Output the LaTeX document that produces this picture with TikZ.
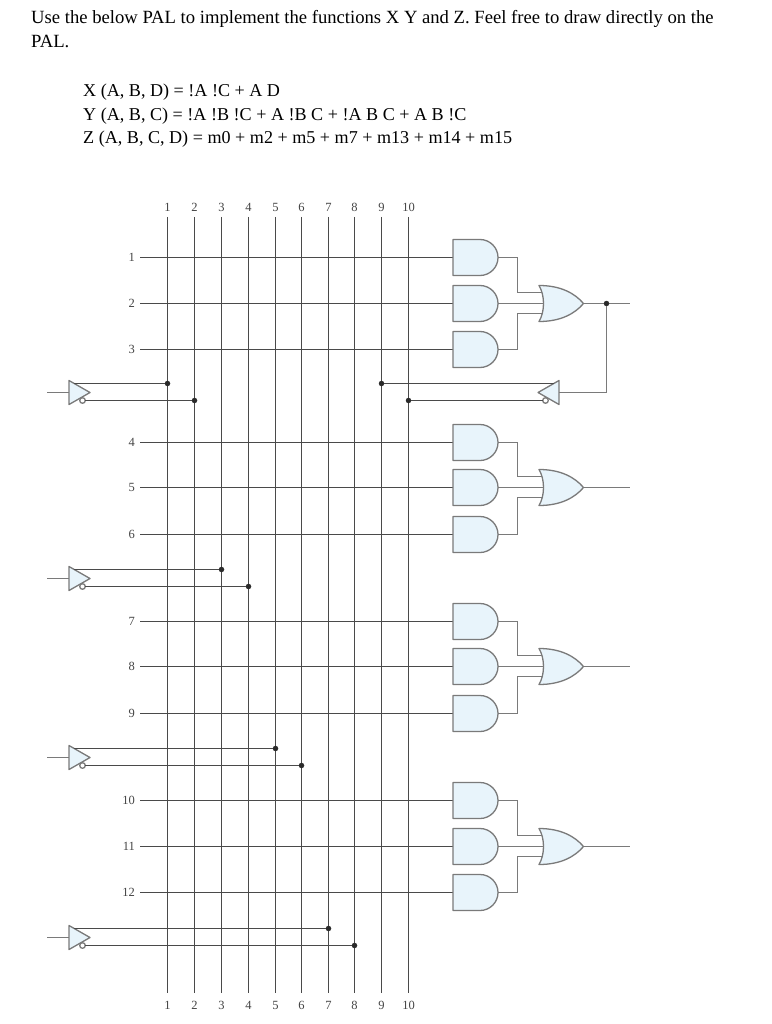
\documentclass[tikz,border=0pt]{standalone}
\usepackage{fontspec}
\setmainfont{Liberation Serif}
\usetikzlibrary{positioning}

\definecolor{gridcol}{HTML}{4A4A4A}
\definecolor{gatecol}{HTML}{7A7A7A}
\definecolor{gatefill}{HTML}{E8F4FB}
\definecolor{numcol}{HTML}{444444}
\definecolor{dotcol}{HTML}{2A2A2A}

\tikzset{
    grid/.style={draw=gridcol, line width=1pt},
    wire/.style={draw=gatecol, line width=1pt},
    gate/.style={draw=gatecol, line width=1.3pt, fill=gatefill, line join=round},
    num/.style={font=\fontsize{12.5}{13}\selectfont, text=numcol, inner sep=0pt},
    txt/.style={font=\fontsize{18.1}{20}\selectfont, inner sep=0pt, anchor=base west},
    dotnode/.style={circle, fill=dotcol, inner sep=0pt, minimum size=5.5pt},
    andgate/.pic={
        \path[gate] (0,-18) -- (27,-18) arc (-90:90:18) -- (0,18) -- cycle;
        \coordinate (-in) at (0,0);
        \coordinate (-out) at (45,0);
    },
    orgate/.pic={
        \path[gate] (0,-18) .. controls (22,-18) and (36,-10) .. (44.5,0)
            .. controls (36,10) and (22,18) .. (0,18)
            .. controls (6,8) and (6,-8) .. (0,-18) -- cycle;
        \coordinate (-a) at (2.8,-11);
        \coordinate (-b) at (4.5,0);
        \coordinate (-c) at (2.8,10);
        \coordinate (-j) at (-21.5,-11);
        \coordinate (-k) at (-21.5,10);
        \coordinate (-out) at (44.5,0);
    },
    bufgate/.pic={
        \path[gate] (0,-12) -- (21,0) -- (0,12) -- cycle;
        \path[gate, fill=white] (13.5,8) circle (2.8);
        \coordinate (-in) at (0,0);
        \coordinate (-a) at (5,-9);
        \coordinate (-b) at (16.3,8);
    },
}

\begin{document}
\begin{tikzpicture}[x=1pt, y=-1pt]
    \useasboundingbox (0,0) rectangle (771,1024);

    \node[txt, font=\fontsize{18.65}{20}\selectfont] (line1) at (31,24) {Use the below PAL to implement the functions X Y and Z. Feel free to draw directly on the};
    \node[txt, font=\fontsize{18.65}{20}\selectfont] (line2) at (31,48) {PAL.};
    \node[txt] (eqX) at (83,96.5) {X (A, B, D) = !A !C + A D};
    \node[txt] (eqY) at (83,120.5) {Y (A, B, C) = !A !B !C + A !B C + !A B C + A B !C};
    \node[txt] (eqZ) at (83,144) {Z (A, B, C, D) = m0 + m2 + m5 + m7 + m13 + m14 + m15};

    % fuse columns
    \foreach \i/\x in {1/167.5,2/194.5,3/221.5,4/248.5,5/275.5,6/301.5,7/328.5,8/354.5,9/381.5,10/408.5} {
        \coordinate (t\i) at (\x,217);
        \coordinate (b\i) at (\x,993);
        \node[num] (ct\i) at (\x,207) {\i};
        \node[num] (cb\i) at (\x,1005) {\i};
        \draw[grid] (t\i) -- (b\i);
    }

    % product terms
    \foreach \r/\y in {1/257.5,2/303.5,3/349.5,4/442.5,5/487.5,6/534.5,7/621.5,8/666.5,9/713.5,10/800.5,11/846.5,12/892.5} {
        \coordinate (r\r) at (140,\y);
        \node[num, left=5pt of r\r] (lab\r) {\r};
        \coordinate (g\r) at (453,\y);
        \draw[grid] (r\r) -- (g\r);
        \pic (and\r) at (g\r) {andgate};
    }

    % sums
    \foreach \n/\y/\p/\q/\s in {1/303.5/1/2/3,2/487.5/4/5/6,3/666.5/7/8/9,4/846.5/10/11/12} {
        \coordinate (o\n) at (539,\y);
        \coordinate (z\n) at (630,\y);
        \pic (or\n) at (o\n) {orgate};
        \draw[wire] (and\p-out) -| (or\n-j) -- (or\n-a);
        \draw[wire] (and\q-out) -- (or\n-b);
        \draw[wire] (and\s-out) -| (or\n-k) -- (or\n-c);
        \draw[wire] (or\n-out) -- (z\n);
    }

    % input buffers
    \foreach \n/\y/\p/\q in {1/392.5/1/2,2/578.5/3/4,3/757.5/5/6,4/937.5/7/8} {
        \coordinate (i\n) at (47,\y);
        \coordinate (s\n) at (69,\y);
        \pic (buf\n) at (s\n) {bufgate};
        \draw[wire] (i\n) -- (buf\n-in);
        \node[dotnode] (da\n) at (buf\n-a -| t\p) {};
        \node[dotnode] (db\n) at (buf\n-b -| t\q) {};
        \draw[grid] (buf\n-a) -- (da\n);
        \draw[grid] (buf\n-b) -- (db\n);
    }

    % feedback buffer
    \coordinate (s5) at (559,392.5);
    \node[dotnode] (fb) at (606.5,303.5) {};
    \pic[xscale=-1] (buf5) at (s5) {bufgate};
    \draw[wire] (fb) |- (buf5-in);
    \node[dotnode] (da5) at (buf5-a -| t9) {};
    \node[dotnode] (db5) at (buf5-b -| t10) {};
    \draw[grid] (buf5-a) -- (da5);
    \draw[grid] (buf5-b) -- (db5);
\end{tikzpicture}
\end{document}
